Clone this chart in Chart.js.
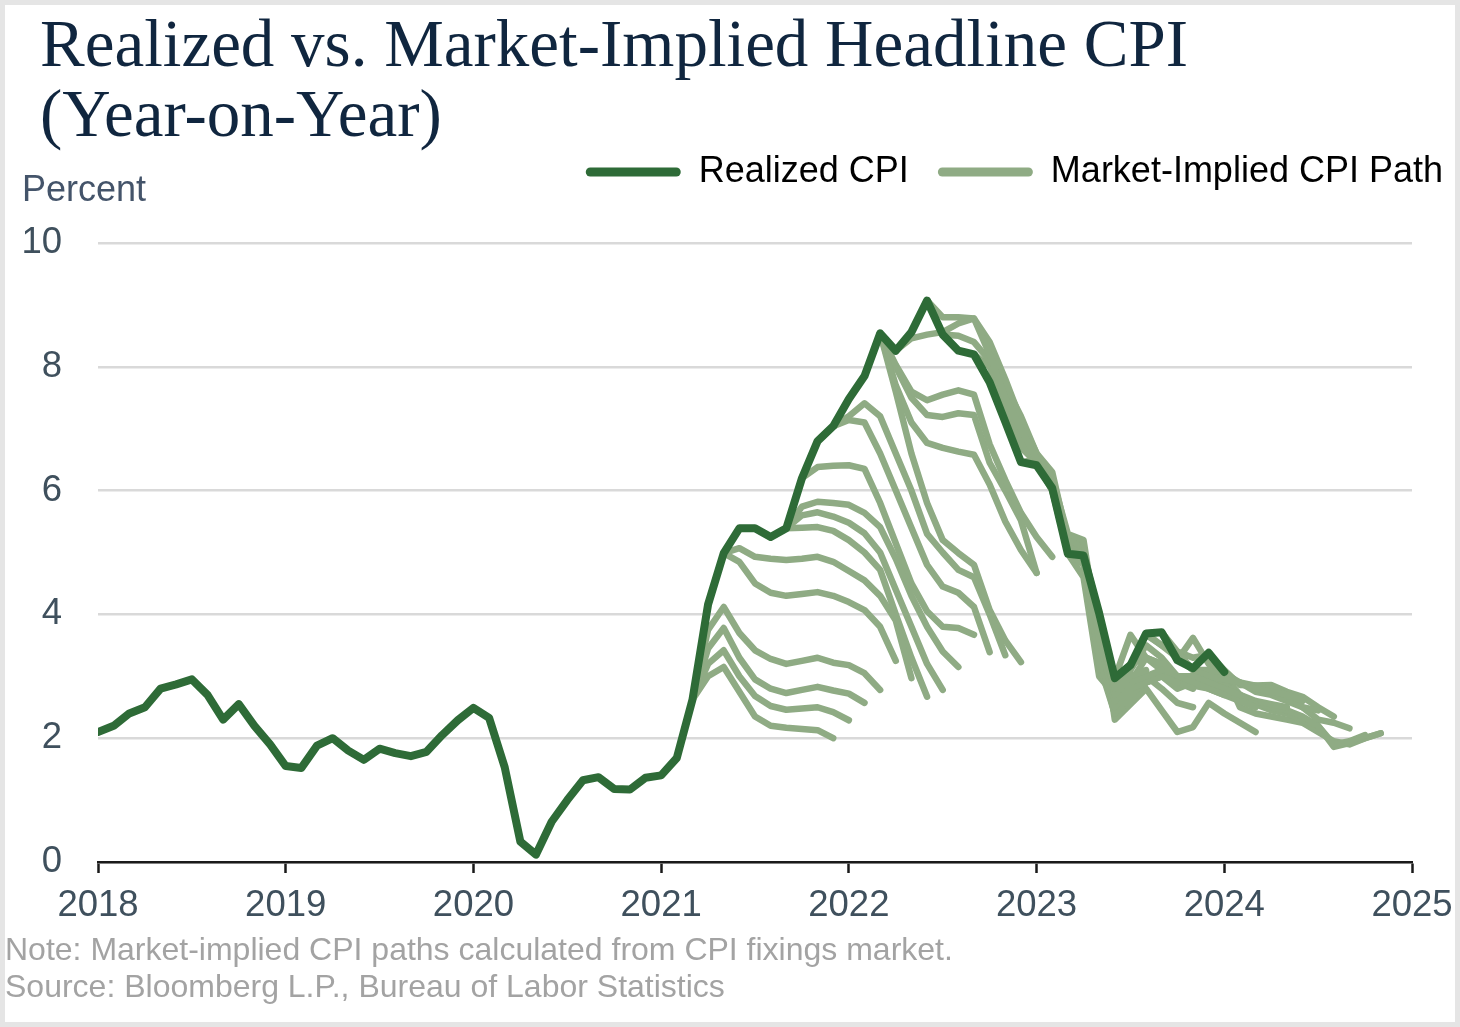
<!DOCTYPE html>
<html>
<head>
<meta charset="utf-8">
<script src="https://cdn.jsdelivr.net/npm/chart.js@4.4.1/dist/chart.umd.min.js"></script>
<style>
html,body{margin:0;padding:0;background:#fff;}
#wrap{position:relative;width:1460px;height:1027px;overflow:hidden;background:#fff;}
#c{position:absolute;left:0;top:0;}
.t{position:absolute;white-space:nowrap;}
#title{left:40px;top:8px;font-family:"Liberation Serif","Times New Roman",serif;font-size:67px;line-height:70px;color:#10263f;}
#ylab{left:22px;top:171px;font-family:"Liberation Sans",Arial,sans-serif;font-size:36px;line-height:36px;color:#44546a;}
#notes{left:5px;top:931px;font-family:"Liberation Sans",Arial,sans-serif;font-size:32px;line-height:37px;color:#a3a3a3;}
#frame{position:absolute;left:0;top:0;width:1460px;height:1027px;box-sizing:border-box;border:5px solid #e5e5e5;pointer-events:none;}
</style>
</head>
<body>
<div id="wrap">
<canvas id="c" width="1460" height="1027"></canvas>
<div class="t" id="title">Realized vs. Market-Implied Headline CPI<br>(Year-on-Year)</div>
<div class="t" id="ylab">Percent</div>
<div class="t" id="notes">Note: Market-implied CPI paths calculated from CPI fixings market.<br>Source: Bloomberg L.P., Bureau of Labor Statistics</div>
<div id="frame"></div>
</div>
<script>
// x values are months since Jan 2018 (0 = Jan 2018)
const yearLabels = ['2018','2019','2020','2021','2022','2023','2024','2025'];

// Realized CPI, year-on-year %, monthly Jan 2018 .. Jan 2024
const realizedCPI = [
  2.1, 2.2, 2.4, 2.5, 2.8, 2.87, 2.95, 2.7, 2.3, 2.55, 2.2, 1.9,
  1.55, 1.52, 1.88, 2.0, 1.8, 1.65, 1.83, 1.76, 1.71, 1.78, 2.05, 2.29,
  2.49, 2.33, 1.53, 0.33, 0.12, 0.65, 1.0, 1.32, 1.37, 1.18, 1.17, 1.36,
  1.4, 1.68, 2.62, 4.16, 4.99, 5.39, 5.39, 5.25, 5.39, 6.2, 6.8, 7.04,
  7.48, 7.85, 8.54, 8.26, 8.56, 9.07, 8.52, 8.26, 8.2, 7.75, 7.11, 6.46,
  6.41, 6.04, 4.98, 4.95, 4.02, 2.97, 3.18, 3.69, 3.71, 3.26, 3.13, 3.38,
  3.07
];

// Market-implied paths: first month of each path and its monthly values
const pathStartMonth = [
  38, 38, 38, 38, 40, 40, 44, 44, 44, 45, 46, 47, 50, 50, 50, 50,
  51, 53, 54, 56, 57, 58, 59, 60, 61, 62, 63,
  64, 64, 64, 65, 66, 67, 68, 69, 70, 71, 72
];
const pathValues = [
  [2.62, 3.0, 3.15, 2.75, 2.35, 2.2, 2.17, 2.15, 2.13, 2.0],
  [2.62, 3.2, 3.42, 3.0, 2.68, 2.52, 2.46, 2.48, 2.5, 2.42, 2.29],
  [2.62, 3.45, 3.78, 3.3, 2.95, 2.8, 2.73, 2.78, 2.83, 2.77, 2.72, 2.57],
  [2.62, 3.75, 4.12, 3.7, 3.42, 3.28, 3.2, 3.25, 3.3, 3.22, 3.18, 3.05, 2.78],
  [4.99, 4.85, 4.5, 4.35, 4.3, 4.33, 4.36, 4.3, 4.2, 4.07, 3.8, 3.25],
  [4.99, 5.07, 4.93, 4.9, 4.88, 4.9, 4.93, 4.85, 4.7, 4.55, 4.3, 3.9, 2.97],
  [5.39, 5.4, 5.41, 5.35, 5.2, 5.0, 4.72, 4.0, 3.3, 2.67],
  [5.39, 5.6, 5.65, 5.58, 5.48, 5.31, 5.0, 4.4, 3.8, 3.2, 2.78],
  [5.39, 5.74, 5.82, 5.8, 5.77, 5.64, 5.41, 4.9, 4.3, 3.8, 3.4, 3.15],
  [6.2, 6.38, 6.4, 6.41, 6.35, 5.8, 5.15, 4.5, 4.05, 3.8, 3.78, 3.67],
  [6.8, 7.04, 7.14, 7.1, 6.6, 6.0, 5.4, 4.8, 4.45, 4.35, 4.12, 3.39],
  [7.04, 7.2, 7.41, 7.2, 6.6, 6.0, 5.3, 5.0, 4.72, 4.6, 4.0, 3.34],
  [8.54, 7.6, 6.6, 5.8, 5.2, 4.99, 4.8, 4.07, 3.58, 3.23],
  [8.54, 8.03, 7.6, 7.46, 7.55, 7.62, 7.55, 6.75, 6.17, 5.64, 5.25, 4.93],
  [8.54, 8.0, 7.5, 7.22, 7.19, 7.25, 7.22, 6.45, 6.0, 5.52, 4.67],
  [8.54, 7.7, 7.1, 6.77, 6.69, 6.63, 6.58, 6.1, 5.5, 5.04, 4.67],
  [8.26, 8.46, 8.52, 8.56, 8.7, 8.78, 8.2, 7.5, 7.0, 6.5, 6.1],
  [9.07, 8.8, 8.8, 8.78, 8.4, 7.8, 7.14, 6.6, 6.2, 5.3, 5.2, 3.6],
  [8.52, 8.5, 8.4, 8.1, 7.7, 7.2, 6.6, 6.3, 5.2, 5.1, 3.7, 2.8],
  [8.2, 8.0, 7.4, 6.8, 6.5, 6.1, 5.1, 5.0, 4.0, 2.9, 3.2],
  [7.75, 7.3, 6.7, 6.45, 6.1, 5.0, 4.9, 3.9, 2.7, 3.0, 3.1],
  [7.11, 6.7, 6.45, 6.0, 5.0, 4.8, 3.6, 2.6, 2.9, 3.0, 3.1],
  [6.46, 6.5, 6.0, 5.1, 4.9, 3.3, 2.5, 2.8, 2.9, 3.0, 2.9],
  [6.41, 6.1, 5.0, 4.9, 3.2, 2.4, 2.7, 2.9, 3.0, 2.9, 2.8],
  [6.04, 5.1, 4.9, 3.5, 2.6, 2.9, 3.3, 3.2, 3.0, 2.9, 2.8, 2.7],
  [4.98, 4.6, 3.0, 2.7, 3.1, 3.5, 3.3, 3.0, 3.0, 2.9, 2.8, 2.7],
  [4.95, 3.3, 2.4, 2.6, 2.9, 3.0, 2.8, 2.9, 2.9, 2.8, 2.6, 2.5],
  [4.02, 2.3, 2.55, 2.8, 2.45, 2.1, 2.18, 2.57, 2.4, 2.25, 2.1],
  [4.02, 2.83, 2.9, 3.0, 2.8, 2.57, 2.5],
  [4.02, 2.8, 3.2, 3.3, 3.1, 2.9, 2.85, 2.8, 2.7, 2.6, 2.55],
  [2.97, 3.67, 3.3, 3.2, 3.0, 3.0, 2.9, 2.8, 2.7, 2.6, 2.55, 2.5],
  [3.18, 3.67, 3.5, 3.4, 3.1, 3.0, 2.95, 2.9, 2.8, 2.75, 2.7, 2.6],
  [3.69, 3.5, 3.3, 3.1, 3.1, 3.0, 2.9, 2.85, 2.8, 2.7, 2.5, 2.45],
  [3.71, 3.4, 3.3, 3.35, 3.1, 2.86, 2.85, 2.86, 2.75, 2.67, 2.5, 2.35],
  [3.26, 3.62, 3.2, 3.05, 2.9, 2.75, 2.7, 2.6, 2.5, 2.3, 2.25, 2.16],
  [3.13, 3.0, 2.9, 2.6, 2.55, 2.5, 2.45, 2.35, 2.2, 1.9, 1.95, 2.05],
  [3.38, 3.0, 2.7, 2.55, 2.45, 2.4, 2.3, 2.2, 1.86, 1.92, 2.0, 2.08],
  [3.07, 2.5, 2.4, 2.35, 2.3, 2.25, 2.1, 1.95, 1.9, 2.0, 2.08]
];

const DARK = '#2e6b37';
const LIGHT = '#8fab84';
const TICK_COLOR = '#3f505d';

Chart.defaults.font.family = '"Liberation Sans", Arial, sans-serif';

const lineCommon = {
  pointRadius: 0, pointHoverRadius: 0, tension: 0, fill: false,
  borderCapStyle: 'round', borderJoinStyle: 'round'
};

const datasets = [];
datasets.push(Object.assign({
  label: 'Realized CPI',
  data: realizedCPI.map((v, i) => ({x: i, y: v})),
  borderColor: DARK, backgroundColor: DARK, borderWidth: 8, order: 0
}, lineCommon));
pathValues.forEach((vals, k) => {
  datasets.push(Object.assign({
    label: 'Market-Implied CPI Path',
    data: vals.map((v, j) => ({x: pathStartMonth[k] + j, y: v})),
    borderColor: LIGHT, backgroundColor: LIGHT, borderWidth: 6.5, order: 1
  }, lineCommon));
});

const LEGEND_TOP = 125;
const legendPlacer = {
  id: 'legendPlacer',
  beforeLayout(chart) {
    const lg = chart.legend;
    if (lg && !lg._wrappedFit) {
      const f = lg.fit.bind(lg);
      lg.fit = function () { f(); this.height = 0; };
      lg._wrappedFit = true;
    }
  },
  beforeDraw(chart) {
    const lg = chart.legend;
    if (!lg) return;
    lg.left = 0; lg.right = 1472; lg.width = 1472;
    lg.top = LEGEND_TOP; lg.bottom = LEGEND_TOP + 80; lg.height = 80;
  }
};

new Chart(document.getElementById('c'), {
  type: 'line',
  data: {datasets},
  options: {
    responsive: false,
    animation: false,
    devicePixelRatio: 1,
    parsing: false,
    layout: {padding: {top: 243, right: 48, bottom: 0, left: 0}},
    plugins: {
      title: {display: false},
      tooltip: {enabled: false},
      legend: {
        display: true,
        position: 'top',
        align: 'end',
        labels: {
          boxWidth: 95, boxHeight: 9, padding: 29, color: '#000',
          font: {size: 36},
          generateLabels: () => [
            {text: 'Realized CPI', fillStyle: DARK, strokeStyle: DARK, lineWidth: 0, borderRadius: 4.5, datasetIndex: 0, hidden: false, fontColor: '#000'},
            {text: 'Market-Implied CPI Path', fillStyle: LIGHT, strokeStyle: LIGHT, lineWidth: 0, borderRadius: 4.5, datasetIndex: 1, hidden: false, fontColor: '#000'}
          ]
        }
      }
    },
    scales: {
      x: {
        type: 'linear', min: 0, max: 84,
        afterBuildTicks: (s) => { s.ticks = yearLabels.map((l, i) => ({value: i * 12})); },
        ticks: {
          callback: (v) => yearLabels[Math.round(v / 12)],
          color: TICK_COLOR, font: {size: 36.5}, padding: 11,
          maxRotation: 0, autoSkip: false
        },
        grid: {display: true, drawOnChartArea: false, drawTicks: true, tickLength: 11, tickColor: '#1a1a1a', tickWidth: 2.5},
        border: {display: true, color: '#1a1a1a', width: 2.5},
        afterFit: (s) => { s.height = 165; s.paddingLeft = 0; s.paddingRight = 0; }
      },
      y: {
        min: 0, max: 10,
        ticks: {stepSize: 2, color: TICK_COLOR, font: {size: 36.5}, padding: 36},
        grid: {color: '#d9d9d9', lineWidth: 2.5, drawTicks: false},
        border: {display: false},
        afterFit: (s) => { s.width = 98; s.paddingTop = 0; s.paddingBottom = 0; }
      }
    }
  },
  plugins: [legendPlacer]
});
</script>
</body>
</html>
